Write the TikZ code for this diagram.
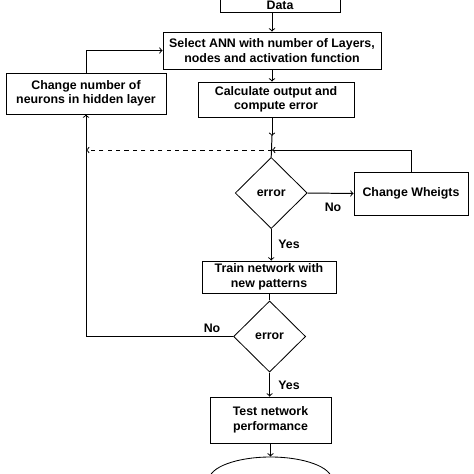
\documentclass[tikz,border=0pt]{standalone}
\usepackage{fontspec}
\setmainfont{Liberation Sans}
\usetikzlibrary{arrows,shapes,positioning}
\tikzstyle{box} = [rectangle, draw, line width=0.6pt, align=center, inner sep=2pt, font=\fontsize{8.8}{10.3}\selectfont\bfseries]
\tikzstyle{decision} = [diamond, draw, line width=0.6pt, aspect=1, inner sep=0pt, minimum width=1.8cm, minimum height=1.78cm, font=\fontsize{8.8}{10.3}\selectfont\bfseries]
\tikzstyle{lbl} = [font=\fontsize{8.8}{10.3}\selectfont\bfseries]
\tikzstyle{arrow} = [line width=0.7pt,->,>=to]
\tikzstyle{line} = [line width=0.7pt]

\begin{document}
\begin{tikzpicture}
    \useasboundingbox (0,0) rectangle (11.85,-11.85);

    % Process boxes
    \node[box, minimum width=3cm, minimum height=0.36cm, inner ysep=0pt] (data) at (7,-0.12) {Data};

    \node[box, minimum width=5.45cm, minimum height=0.925cm] (sel) at (6.8,-1.2625) {Select ANN with number of Layers,\\nodes and activation function};

    \node[box, minimum width=4cm, minimum height=1.025cm] (chg) at (2.15,-2.3375) {Change number of\\neurons in hidden layer};

    \node[box, minimum width=3.9cm, minimum height=0.875cm] (calc) at (6.9,-2.4875) {Calculate output and\\compute error};

    \node[decision] (err1) at (6.78,-4.825) {error};

    \node[box, minimum width=2.85cm, minimum height=1.075cm] (wts) at (10.275,-4.8375) {Change Wheigts};

    \node[box, minimum width=3.35cm, minimum height=0.8cm] (train) at (6.725,-6.925) {Train network with\\new patterns};

    \node[decision] (err2) at (6.74,-8.4125) {error};

    \node[box, minimum width=3.025cm, minimum height=1.15cm] (test) at (6.7625,-10.5) {Test network\\performance};

    \node[draw, ellipse, line width=0.6pt, minimum width=3.075cm, minimum height=1.15cm] (stop) at (6.7625,-12) {};

    % Connectors
    \coordinate (mid) at (6.8,-3.4);
    \coordinate (join) at (6.8,-3.75);
    \draw[arrow] (sel |- data.south) -- (sel.north);
    \draw[arrow] (sel.south) -- (sel.south |- calc.north);
    \draw[arrow] (mid |- calc.south) -- (mid);
    \draw[line] (mid) -- (err1.north);
    \draw[arrow, dashed] (join) -- (join -| chg);
    \draw[arrow] (chg.north) |- (sel.west);
    \draw[arrow] (err1.east) -- (wts.west);
    \draw[arrow] (wts.north) |- (join);
    \draw[arrow] (err1.south) -- (err1.south |- train.north);
    \draw[line] (err2.north |- train.south) -- (err2.north);
    \draw[arrow] (err2.west) -| (chg.south);
    \draw[arrow] (err2.south) -- (err2.south |- test.north);
    \draw[arrow] (test.south) -- (test.south |- stop.north);

    % Labels
    \node[lbl] (no1) at (8.325,-5.175) {No};
    \node[lbl] (yes1) at (7.225,-6.1) {Yes};
    \node[lbl] (no2) at (5.3,-8.2) {No};
    \node[lbl] (yes2) at (7.225,-9.625) {Yes};
\end{tikzpicture}
\end{document}
